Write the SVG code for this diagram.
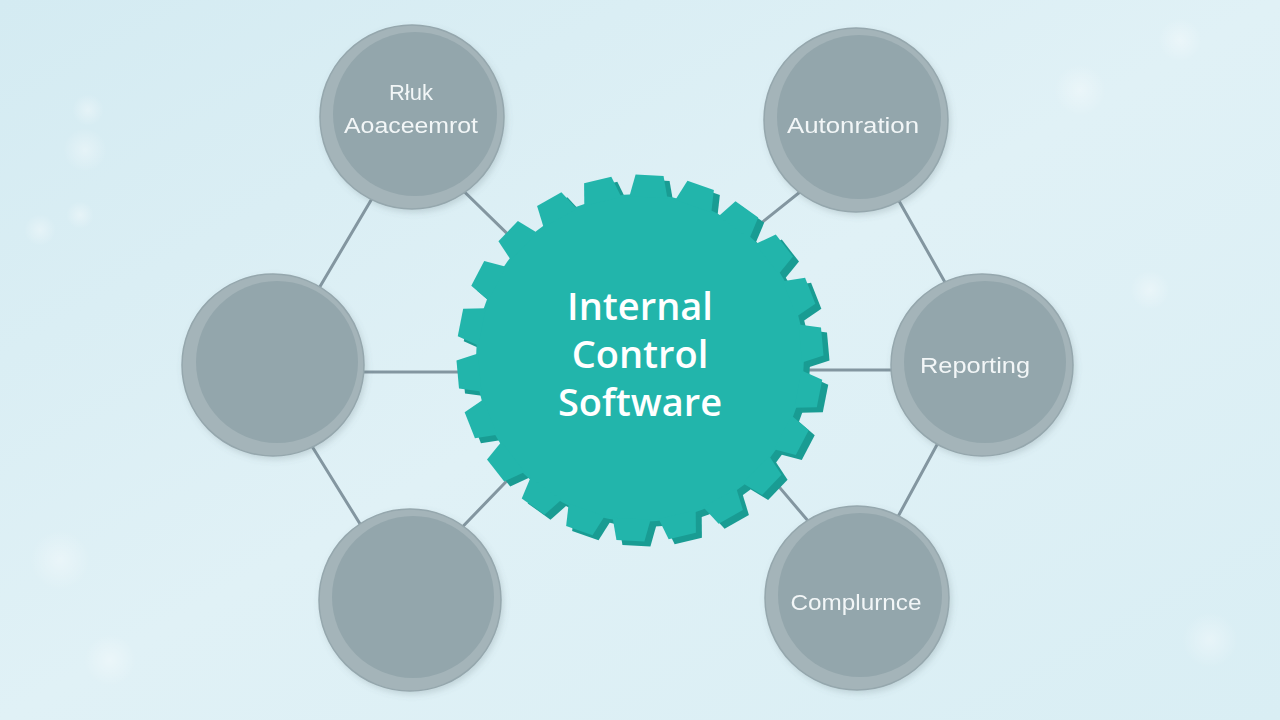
<svg xmlns="http://www.w3.org/2000/svg" xmlns:xlink="http://www.w3.org/1999/xlink" width="1280" height="720" viewBox="0 0 1280 720">
  <defs>
    <linearGradient id="bg" x1="0" y1="0" x2="1" y2="1">
      <stop offset="0" stop-color="#d4ebf2"/>
      <stop offset="0.5" stop-color="#e0f1f6"/>
      <stop offset="1" stop-color="#d9eef4"/>
    </linearGradient>
    <radialGradient id="bokeh">
      <stop offset="0" stop-color="#ffffff" stop-opacity="0.35"/>
      <stop offset="1" stop-color="#ffffff" stop-opacity="0"/>
    </radialGradient>
    <filter id="sh" x="-20%" y="-20%" width="140%" height="140%">
      <feDropShadow dx="2" dy="3" stdDeviation="3" flood-color="#5a6e75" flood-opacity="0.22"/>
    </filter>
    <polygon id="tooth" points="-19,-161 19,-161 14,-183 -14,-183"/>
    <g id="gearShape">
      <circle cx="0" cy="0" r="164"/>
      <use xlink:href="#tooth" transform="rotate(3)"/>
      <use xlink:href="#tooth" transform="rotate(19.36)"/>
      <use xlink:href="#tooth" transform="rotate(35.73)"/>
      <use xlink:href="#tooth" transform="rotate(52.09)"/>
      <use xlink:href="#tooth" transform="rotate(68.45)"/>
      <use xlink:href="#tooth" transform="rotate(84.82)"/>
      <use xlink:href="#tooth" transform="rotate(101.18)"/>
      <use xlink:href="#tooth" transform="rotate(117.55)"/>
      <use xlink:href="#tooth" transform="rotate(133.91)"/>
      <use xlink:href="#tooth" transform="rotate(150.27)"/>
      <use xlink:href="#tooth" transform="rotate(166.64)"/>
      <use xlink:href="#tooth" transform="rotate(183)"/>
      <use xlink:href="#tooth" transform="rotate(199.36)"/>
      <use xlink:href="#tooth" transform="rotate(215.73)"/>
      <use xlink:href="#tooth" transform="rotate(232.09)"/>
      <use xlink:href="#tooth" transform="rotate(248.45)"/>
      <use xlink:href="#tooth" transform="rotate(264.82)"/>
      <use xlink:href="#tooth" transform="rotate(281.18)"/>
      <use xlink:href="#tooth" transform="rotate(297.55)"/>
      <use xlink:href="#tooth" transform="rotate(313.91)"/>
      <use xlink:href="#tooth" transform="rotate(330.27)"/>
      <use xlink:href="#tooth" transform="rotate(346.64)"/>
    </g>
  </defs>
  <style>
    .conn { stroke: #8396a0; stroke-width: 3; fill: none; stroke-linecap: round; }
    .rim { fill: #a4b4b9; stroke: #95a7ad; stroke-width: 1.5; }
    .face { fill: #93a6ac; }
    .lbl { font-family: "Liberation Sans", Arial, sans-serif; font-size: 22px; fill: #f2f6f7; text-anchor: middle; }
    .gtxt { font-family: "Open Sans", "Noto Sans", sans-serif; font-weight: 600; font-size: 38px; fill: #ffffff; text-anchor: middle; }
  </style>

  <rect x="0" y="0" width="1280" height="720" fill="url(#bg)"/>
  <g id="background-bokeh">
    <circle cx="85" cy="150" r="22" fill="url(#bokeh)"/>
    <circle cx="40" cy="230" r="16" fill="url(#bokeh)"/>
    <circle cx="88" cy="110" r="16" fill="url(#bokeh)"/>
    <circle cx="80" cy="215" r="14" fill="url(#bokeh)"/>
    <circle cx="60" cy="560" r="30" fill="url(#bokeh)"/>
    <circle cx="110" cy="660" r="26" fill="url(#bokeh)"/>
    <circle cx="1080" cy="90" r="26" fill="url(#bokeh)"/>
    <circle cx="1180" cy="40" r="22" fill="url(#bokeh)"/>
    <circle cx="1150" cy="290" r="20" fill="url(#bokeh)"/>
    <circle cx="1210" cy="640" r="28" fill="url(#bokeh)"/>
  </g>

  <g id="connectors">
    <line class="conn" x1="440" y1="168" x2="530" y2="256"/>
    <line class="conn" x1="380" y1="185" x2="315" y2="295"/>
    <line class="conn" x1="350" y1="372" x2="480" y2="372"/>
    <line class="conn" x1="305" y1="435" x2="370" y2="540"/>
    <line class="conn" x1="445" y1="545" x2="525" y2="462"/>
    <line class="conn" x1="815" y1="180" x2="750" y2="232"/>
    <line class="conn" x1="890" y1="185" x2="955" y2="300"/>
    <line class="conn" x1="800" y1="370" x2="905" y2="370"/>
    <line class="conn" x1="945" y1="430" x2="888" y2="535"/>
    <line class="conn" x1="752" y1="455" x2="820" y2="535"/>
  </g>

  <g id="gear">
    <use xlink:href="#gearShape" transform="translate(646,363)" fill="#199c93"/>
    <use xlink:href="#gearShape" transform="translate(640,358)" fill="#22b5ab"/>
    <text class="gtxt" x="640" y="320">Internal</text>
    <text class="gtxt" x="640" y="368">Control</text>
    <text class="gtxt" x="640" y="416">Software</text>
  </g>

  <g id="node-risk" filter="url(#sh)">
    <circle class="rim" cx="412" cy="117" r="92"/>
    <circle class="face" cx="415" cy="114" r="82"/>
    <text class="lbl" x="411" y="100">Rłuk</text>
    <text class="lbl" x="411" y="133" textLength="134" lengthAdjust="spacingAndGlyphs">Aoaceemrot</text>
  </g>

  <g id="node-automation" filter="url(#sh)">
    <circle class="rim" cx="856" cy="120" r="92"/>
    <circle class="face" cx="859" cy="117" r="82"/>
    <text class="lbl" x="853" y="133" textLength="132" lengthAdjust="spacingAndGlyphs">Autonration</text>
  </g>

  <g id="node-left" filter="url(#sh)">
    <circle class="rim" cx="273" cy="365" r="91"/>
    <circle class="face" cx="277" cy="362" r="81"/>
  </g>

  <g id="node-reporting" filter="url(#sh)">
    <circle class="rim" cx="982" cy="365" r="91"/>
    <circle class="face" cx="985" cy="362" r="81"/>
    <text class="lbl" x="975" y="373" textLength="110" lengthAdjust="spacingAndGlyphs">Reporting</text>
  </g>

  <g id="node-bottom-left" filter="url(#sh)">
    <circle class="rim" cx="410" cy="600" r="91"/>
    <circle class="face" cx="413" cy="597" r="81"/>
  </g>

  <g id="node-compliance" filter="url(#sh)">
    <circle class="rim" cx="857" cy="598" r="92"/>
    <circle class="face" cx="860" cy="595" r="82"/>
    <text class="lbl" x="856" y="610" textLength="131" lengthAdjust="spacingAndGlyphs">Complurnce</text>
  </g>
</svg>
